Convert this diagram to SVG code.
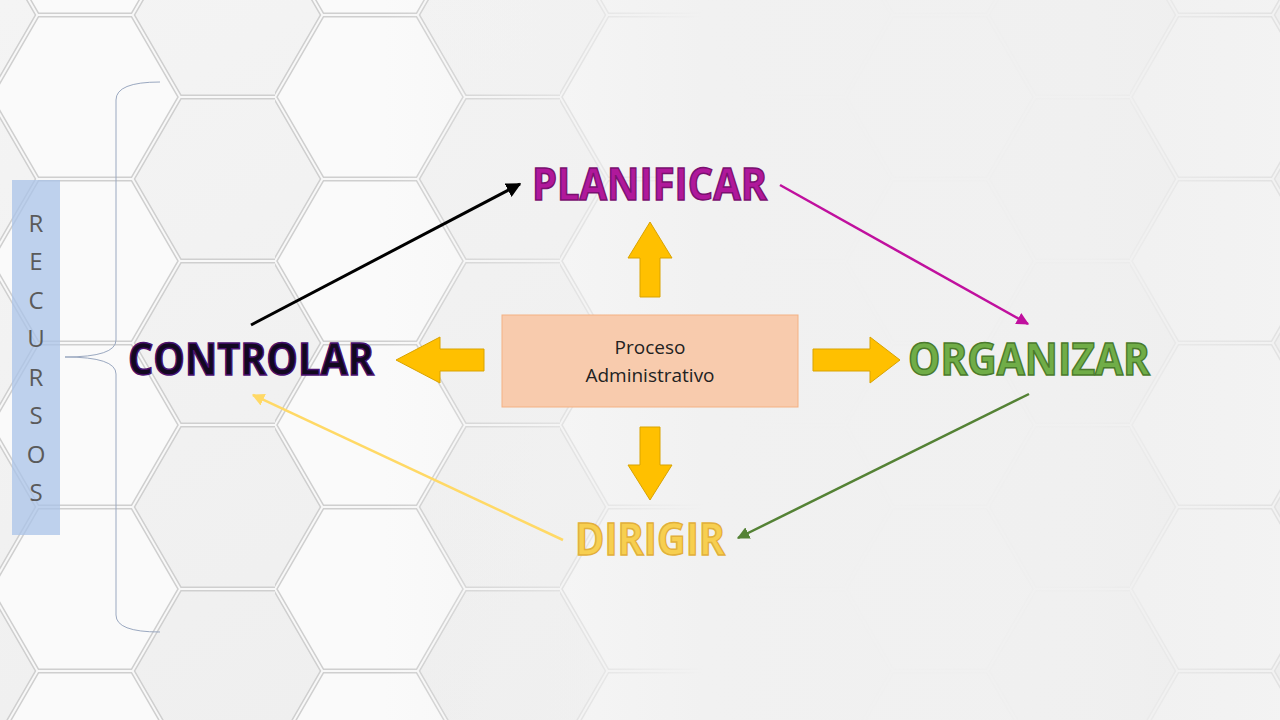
<svg xmlns="http://www.w3.org/2000/svg" width="1280" height="720" viewBox="0 0 1280 720">
<style>
.t{font-family:"Open Sans","Noto Sans",sans-serif;font-weight:bold;font-size:44px;stroke-width:1.5px}
.c{font-family:"Open Sans","Noto Sans",sans-serif;font-size:19px;fill:#222;text-anchor:middle}
.r{font-family:"Open Sans","Noto Sans",sans-serif;font-size:24px;fill:#5a5a5a;text-anchor:middle}
.blk{fill:#ffc000;stroke:#d9a300;stroke-width:1}
</style>
<defs>
<linearGradient id="bg" x1="0" y1="0" x2="1" y2="1"><stop offset="0" stop-color="#f4f4f4"/><stop offset="1" stop-color="#ececec"/></linearGradient>
<pattern id="hex" width="285" height="164" patternUnits="userSpaceOnUse" x="-10" y="15">
<path d="M47.5 0H142.5L190 82L142.5 164H47.5L0 82Z M190 82H285" fill="#fafafa" stroke="#cfcfcf" stroke-width="5"/>
<path d="M47.5 0H142.5L190 82L142.5 164H47.5L0 82Z M190 82H285" fill="none" stroke="#f8f8f8" stroke-width="2"/>
</pattern>
<linearGradient id="fade" x1="0" y1="0" x2="1" y2="0"><stop offset="0.3" stop-color="#f1f1f1" stop-opacity="0"/><stop offset="0.55" stop-color="#f1f1f1" stop-opacity="1"/><stop offset="0.85" stop-color="#f0f0f0" stop-opacity="0.95"/><stop offset="1" stop-color="#eeeeee" stop-opacity="0.6"/></linearGradient>
<linearGradient id="fadev" x1="0" y1="0" x2="0" y2="1"><stop offset="0.7" stop-color="#f1f1f1" stop-opacity="0"/><stop offset="1" stop-color="#f1f1f1" stop-opacity="0"/></linearGradient>
<marker id="mb" viewBox="0 0 10 10" refX="9" refY="5" markerWidth="5" markerHeight="5" orient="auto"><path d="M0 0L10 5L0 10Z" fill="#000"/></marker>
<marker id="mm" viewBox="0 0 10 10" refX="9" refY="5" markerWidth="5" markerHeight="5" orient="auto"><path d="M0 0L10 5L0 10Z" fill="#c0109e"/></marker>
<marker id="mg" viewBox="0 0 10 10" refX="9" refY="5" markerWidth="5" markerHeight="5" orient="auto"><path d="M0 0L10 5L0 10Z" fill="#548235"/></marker>
<marker id="my" viewBox="0 0 10 10" refX="9" refY="5" markerWidth="5" markerHeight="5" orient="auto"><path d="M0 0L10 5L0 10Z" fill="#ffd966"/></marker>
</defs>
<rect width="1280" height="720" fill="url(#bg)"/>
<rect width="1280" height="720" fill="url(#hex)"/>
<rect width="1280" height="720" fill="url(#fade)"/>
<path d="M160 82Q116 82 116 100V340Q116 357 65 357Q116 357 116 374V615Q116 632 160 632" fill="none" stroke="#9aa8c0" stroke-width="1"/>
<g id="recursos">
<rect x="12" y="180" width="48" height="355" fill="#a9c3e8" fill-opacity="0.75"/>
<text class="r" x="36" y="232">R</text><text class="r" x="36" y="270">E</text><text class="r" x="36" y="309">C</text><text class="r" x="36" y="347">U</text><text class="r" x="36" y="386">R</text><text class="r" x="36" y="424">S</text><text class="r" x="36" y="463">O</text><text class="r" x="36" y="501">S</text>
</g>
<g id="proceso">
<rect x="502" y="315" width="296" height="92" fill="#f8cbad" stroke="#f4b183"/>
<text class="c" x="650" y="354">Proceso</text>
<text class="c" x="650" y="382">Administrativo</text>
</g>
<g id="planificar"><text class="t" x="532" y="200" textLength="235" lengthAdjust="spacingAndGlyphs" fill="#b0189b" stroke="#7a1070">PLANIFICAR</text></g>
<g id="controlar"><text class="t" x="128" y="375" textLength="246" lengthAdjust="spacingAndGlyphs" fill="#120820" stroke="#4a1070">CONTROLAR</text></g>
<g id="organizar"><text class="t" x="908" y="375" textLength="242" lengthAdjust="spacingAndGlyphs" fill="#70ad47" stroke="#4a7a2c">ORGANIZAR</text></g>
<g id="dirigir"><text class="t" x="575" y="555" textLength="150" lengthAdjust="spacingAndGlyphs" fill="#f7cf50" stroke="#e2b03a">DIRIGIR</text></g>
<g id="connectors">
<path class="blk" d="M640 297V258H628L650 222L672 258H660V297Z"/>
<path class="blk" d="M640 427V465H628L650 500L672 465H660V427Z"/>
<path class="blk" d="M484 349H440V337L396 360L440 383V371H484Z"/>
<path class="blk" d="M813 349H870V337L900 360L870 383V371H813Z"/>
<line x1="251" y1="325" x2="520" y2="184" stroke="#000" stroke-width="3" marker-end="url(#mb)"/>
<line x1="780" y1="185" x2="1028" y2="324" stroke="#c0109e" stroke-width="2.5" marker-end="url(#mm)"/>
<line x1="1029" y1="394" x2="738" y2="538" stroke="#548235" stroke-width="2.5" marker-end="url(#mg)"/>
<line x1="563" y1="540" x2="253" y2="395" stroke="#ffd966" stroke-width="2.5" marker-end="url(#my)"/>
</g>
</svg>
